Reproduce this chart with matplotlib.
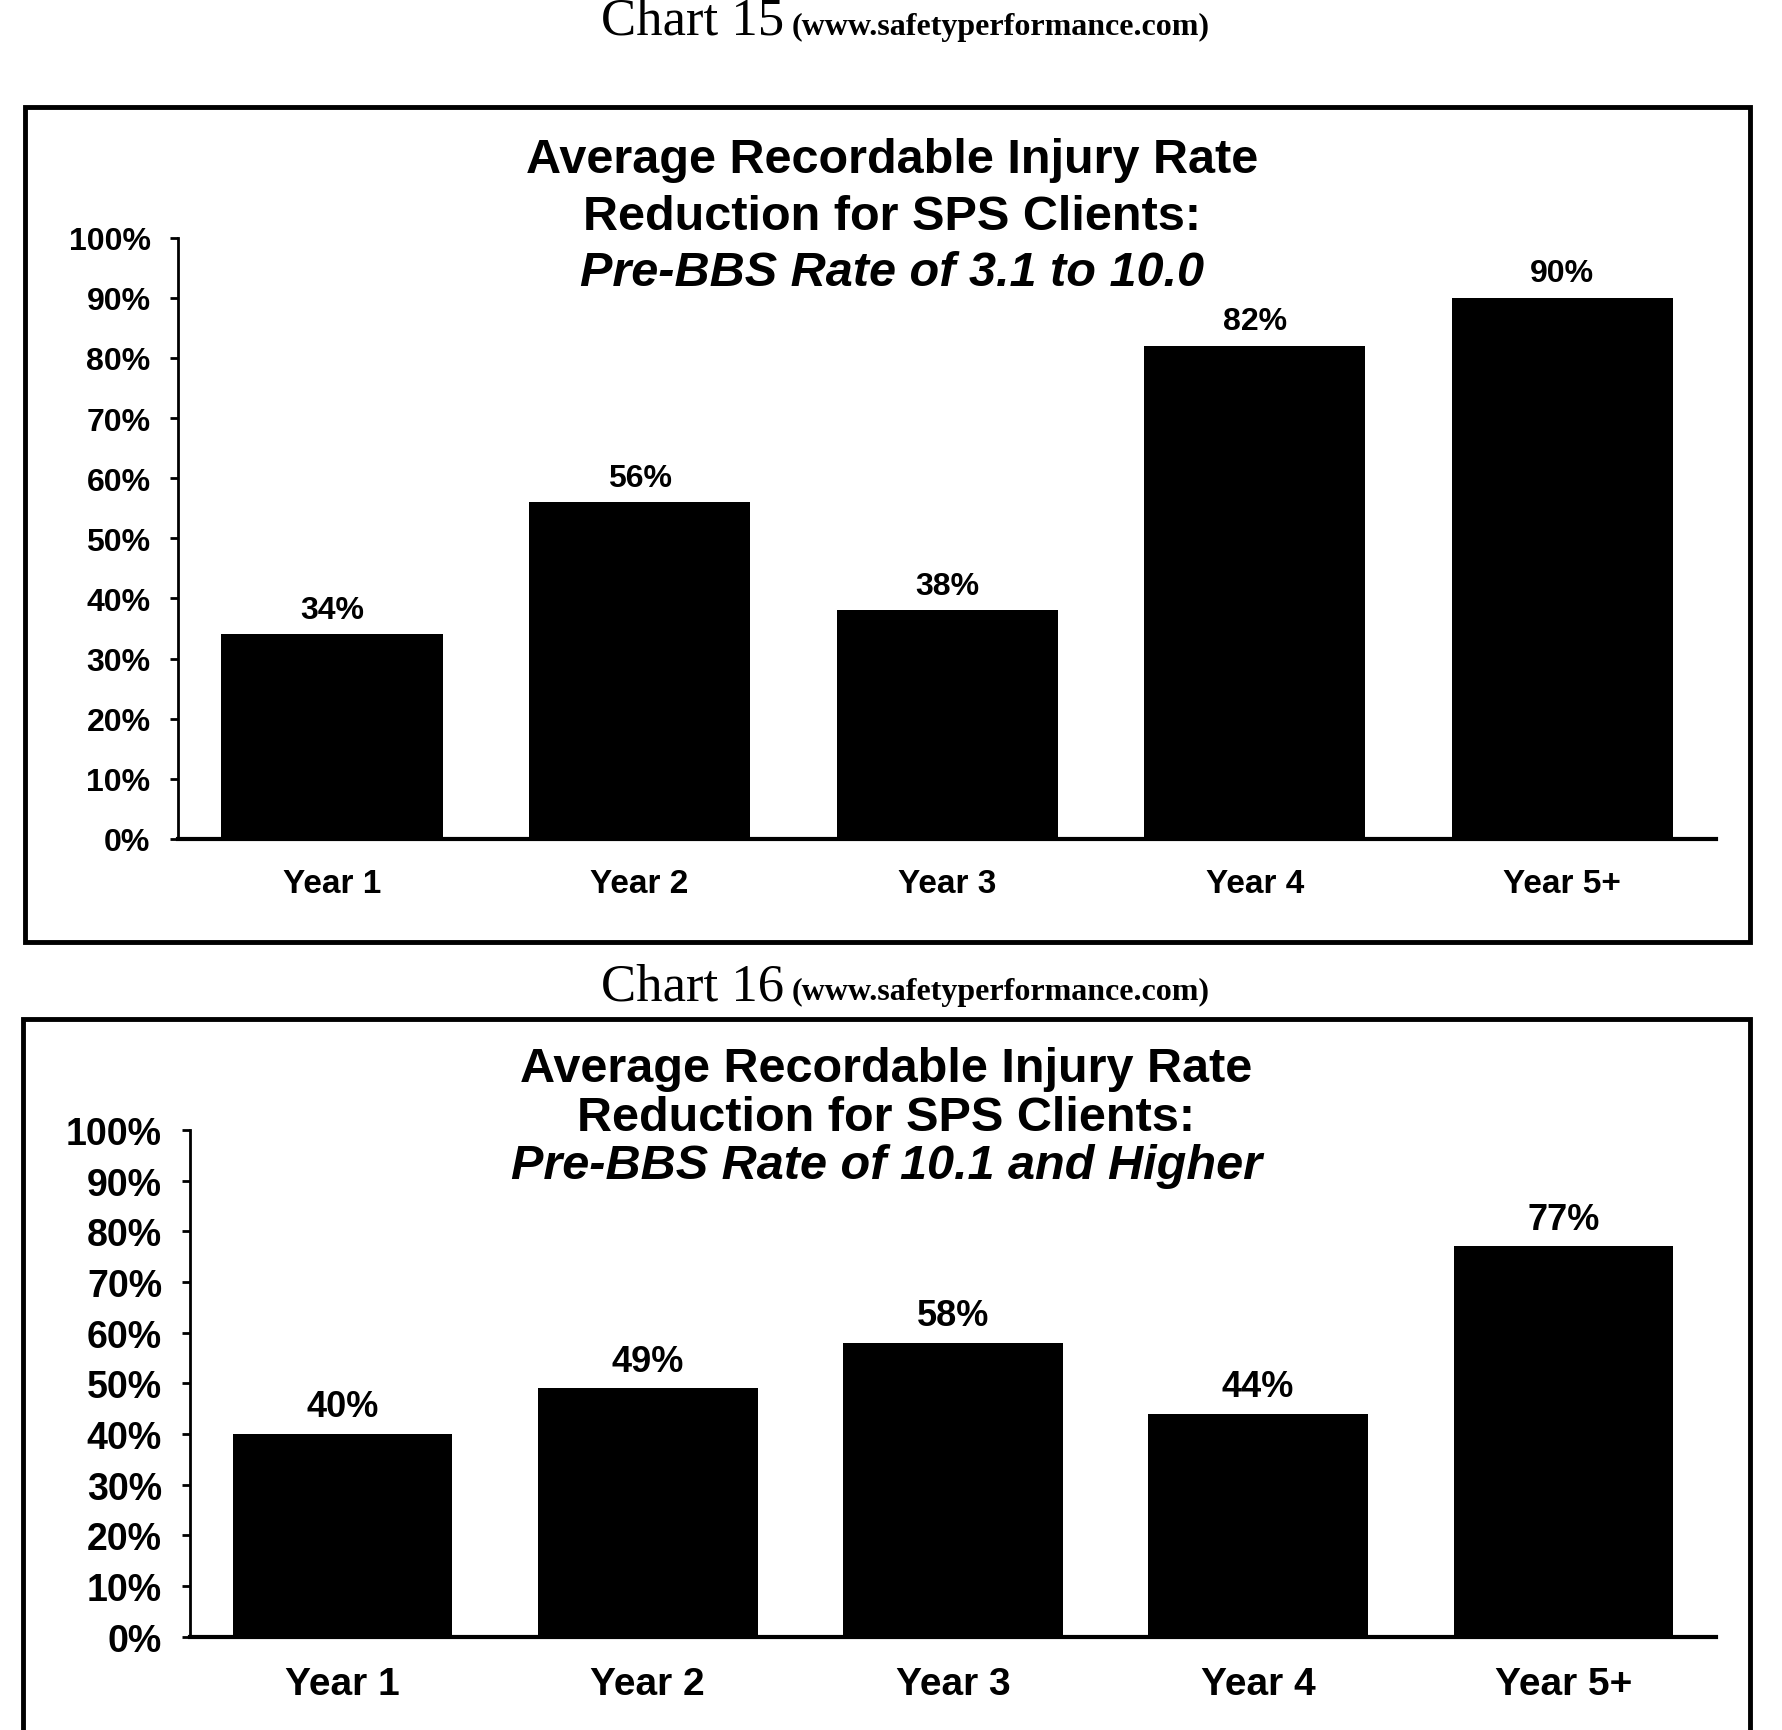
import matplotlib
matplotlib.use('Agg')
import matplotlib.pyplot as plt
from matplotlib.patches import Rectangle

# data
years = ['Year 1', 'Year 2', 'Year 3', 'Year 4', 'Year 5+']
rate_3_to_10 = [34, 56, 38, 82, 90]
rate_10_plus = [40, 49, 58, 44, 77]
pct_ticks = [0, 10, 20, 30, 40, 50, 60, 70, 80, 90, 100]

sans = ['Liberation Sans Narrow', 'Liberation Sans', 'DejaVu Sans']
serif = ['Liberation Serif', 'DejaVu Serif']

fig = plt.figure(figsize=(17.82, 17.31), dpi=100)


def header(y, num):
    fig.text(0.440, y, 'Chart ' + str(num), family=serif, fontsize=38,
             ha='right', va='baseline')
    fig.text(0.444, y, '(www.safetyperformance.com)', family=serif, fontsize=23,
             fontweight='bold', ha='left', va='baseline')


def frame(x0, y0, x1, y1):
    fig.patches.append(Rectangle((x0, y0), x1 - x0, y1 - y0, transform=fig.transFigure,
                                 fill=False, edgecolor='black', linewidth=3.5))


def chart(rect, values, title_lines, title_ys, title_x, fs_tick, fs_val, fs_year, xpad):
    ax = fig.add_axes(rect)
    x = list(range(len(years)))
    ax.bar(x, values, width=0.72, color='black')
    for xi, v in zip(x, values):
        ax.annotate(str(v) + '%', (xi, v), xytext=(0, 7), textcoords='offset points',
                    ha='center', va='bottom', family=sans, fontweight='bold', fontsize=fs_val)
    ax.set_xlim(-0.5, 4.5)
    ax.set_ylim(0, 100)
    ax.set_yticks(pct_ticks)
    ax.set_yticklabels([str(t) + '%' for t in pct_ticks], family=sans,
                       fontweight='bold', fontsize=fs_tick)
    ax.set_xticks(x)
    ax.set_xticklabels(years, family=sans, fontweight='bold', fontsize=fs_year)
    ax.tick_params(axis='x', length=0, pad=xpad)
    ax.tick_params(axis='y', length=6, width=2, pad=14)
    for s in ['top', 'right']:
        ax.spines[s].set_visible(False)
    ax.spines['left'].set_linewidth(2)
    ax.spines['bottom'].set_linewidth(3)
    for i, (line, ty) in enumerate(zip(title_lines, title_ys)):
        fig.text(title_x, ty, line, family=sans, fontweight='bold', fontsize=35,
                 style='italic' if i == 2 else 'normal', ha='center', va='center')
    return ax


header(0.980, 15)
frame(0.014, 0.455, 0.9821, 0.9376)
chart([0.1001, 0.5148, 0.8629, 0.3473], rate_3_to_10,
      ['Average Recordable Injury Rate', 'Reduction for SPS Clients:',
       'Pre-BBS Rate of 3.1 to 10.0'],
      [0.9075, 0.8746, 0.8418], 0.5006, 23, 23, 24, 21)

header(0.4222, 16)
frame(0.0128, -0.02, 0.9821, 0.411)
chart([0.1065, 0.0538, 0.8565, 0.2929], rate_10_plus,
      ['Average Recordable Injury Rate', 'Reduction for SPS Clients:',
       'Pre-BBS Rate of 10.1 and Higher'],
      [0.3822, 0.3540, 0.3264], 0.4974, 27, 26, 28, 21)

fig.savefig('out.png', dpi=100)
